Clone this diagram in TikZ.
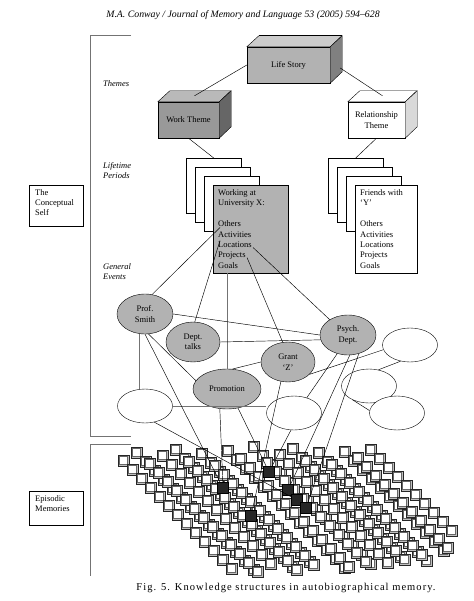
\documentclass[tikz,border=0pt]{standalone}
\usepackage{fontspec}
\setmainfont{Liberation Serif}
\usetikzlibrary{shapes.geometric}

\tikzset{
  lbl/.style={font=\fontsize{8.5}{10.4}\selectfont},
  level/.style={font=\itshape\fontsize{8.5}{10.4}\selectfont, anchor=north west, align=left, inner sep=0pt},
  face/.style={draw, inner sep=0pt, lbl, align=center},
  page/.style={draw, fill=white, anchor=north west, inner sep=0pt, minimum width=55pt, minimum height=55pt},
  event/.style={draw, ellipse, inner sep=0pt, lbl, align=center, fill=gray!60, minimum width=56pt, minimum height=40pt},
  blank/.style={event, fill=white, minimum width=55pt, minimum height=34pt},
  memo/.style={fill=gray!50, draw=black!85, line width=0.4pt},
  hole/.style={fill=white, draw=black!60, line width=0.3pt},
  dark/.style={draw, fill=black!85, minimum size=11pt, inner sep=0pt},
  frame/.style={draw=black!55, line width=0.8pt},
  link/.style={line width=0.45pt},
  glink/.style={draw=black!55, line width=0.8pt},
  sidebox/.style={draw, lbl, align=left, anchor=north west, inner sep=0pt, minimum width=54pt},
}

\begin{document}
\begin{tikzpicture}[x=1pt,y=-1pt]
  \useasboundingbox (0,0) rectangle (473,601);

  % header and caption
  \node[font=\itshape\fontsize{9.8}{11}\selectfont] (head) at (243,15) {M.A. Conway / Journal of Memory and Language 53 (2005) 594--628};
  \node[font=\fontsize{10.5}{12}\selectfont\addfontfeatures{LetterSpace=10}] (cap) at (286,588) {Fig. 5. Knowledge structures in autobiographical memory.};

  % brackets on the left
  \draw[frame] (131,35) -- (90,35) -- (90,436) -- (131,436);
  \draw[frame] (131,444) -- (90,444) -- (90,576);
  \node[sidebox, minimum height=41pt] (self) at (29,185) {};
  \node[lbl, anchor=north west, align=left, inner sep=0pt] at (35,189) {The\\Conceptual\\Self};
  \node[sidebox, minimum height=34pt] (episodic) at (29,491) {};
  \node[lbl, anchor=north west, align=left, inner sep=0pt] at (35,495) {Episodic\\Memories};

  % level names
  \node[level] (themes) at (103,80) {Themes};
  \node[level] (periods) at (103,162) {Lifetime\\Periods};
  \node[level] (general) at (103,263) {General\\Events};

  % themes
  \node[face, fill=gray!60, minimum width=83pt, minimum height=36pt] (story) at (288.5,65) {Life Story};
  \draw[fill=gray!40] (story.north west) -- ++(12,-11) -- ++(83,0) -- (story.north east) -- cycle;
  \draw[fill=gray] (story.north east) -- ++(12,-11) -- ++(0,36) -- (story.south east) -- cycle;
  \draw[line width=1.2pt] ([shift={(12,-11)}]story.north west) -- ++(83,0);

  \node[face, fill=gray!80, minimum width=61pt, minimum height=36pt] (work) at (188.5,120) {Work Theme};
  \draw[fill=gray!55] (work.north west) -- ++(12,-11) -- ++(61,0) -- (work.north east) -- cycle;
  \draw[fill=black!60] (work.north east) -- ++(12,-11) -- ++(0,36) -- (work.south east) -- cycle;

  \node[face, fill=white, minimum width=57pt, minimum height=36pt] (rel) at (376.5,120) {Relationship\\Theme};
  \draw[fill=white] (rel.north west) -- ++(12,-11) -- ++(57,0) -- (rel.north east) -- cycle;
  \draw[fill=gray!30] (rel.north east) -- ++(12,-11) -- ++(0,36) -- (rel.south east) -- cycle;

  \draw[link] (story.west) -- ([shift={(6,-6)}]work.north);
  \draw[link] ([shift={(10,3)}]story.east) -- ([shift={(6,-6)}]rel.north);

  % lifetime periods
  \foreach \i in {0,1,2} {
    \node[page] (wp\i) at (186+9*\i,158+9*\i) {};
    \node[page] (rp\i) at (328+9*\i,158+9*\i) {};
  }
  \node[page, fill=gray!60, minimum width=75pt, minimum height=88pt] (wpage) at (213,185) {};
  \node[lbl, anchor=north west, align=left, inner sep=0pt] (wtext) at (218,189.5)
    {Working at\\University X:\\[10.4pt]Others\\Activities\\Locations\\Projects\\Goals};
  \node[page, minimum width=62pt, minimum height=88pt] (rpage) at (355,185) {};
  \node[lbl, anchor=north west, align=left, inner sep=0pt] (rtext) at (360,189.5)
    {Friends with\\‘Y’\\[10.4pt]Others\\Activities\\Locations\\Projects\\Goals};

  \draw[link] (work.south) -- (wp0.north);
  \draw[link] (rel.south) -- (rp0.north);

  \coordinate (others) at ([shift={(2,38)}]wtext.north west);
  \coordinate (activities) at ([shift={(2,51)}]wtext.north west);
  \coordinate (locations) at ([shift={(35,58)}]wtext.north west);
  \coordinate (projects) at ([shift={(29,68)}]wtext.north west);

  % general events
  \node[event] (smith) at (145,314) {Prof.\\Smith};
  \node[event, minimum width=54pt] (talks) at (193,342) {Dept.\\talks};
  \node[event, minimum width=68pt] (prom) at (227,389) {Promotion};
  \node[event, minimum width=54pt] (grant) at (288,362) {Grant\\‘Z’};
  \node[event] (psych) at (348,335) {Psych.\\Dept.};
  \node[blank] (wleft) at (145,406) {};
  \node[blank] (wcen) at (294,413) {};
  \node[blank] (wtop) at (410,345) {};
  \node[blank] (wmid) at (369,386) {};
  \node[blank] (wbot) at (397,413) {};

  \draw[link] (others) -- (smith.70);
  \draw[link] (activities) -- (talks.85);
  \draw[link] (projects) -- (grant.105);
  \draw[link] (locations) -- (psych.140);
  \draw[glink] (prom.north) -- (prom.north |- wpage.south);
  \draw[link] (smith.east) -- (psych.west);
  \draw[link] (talks.east) -- (psych.190);
  \draw[link] (grant.west) -- (prom.75);
  \draw[link] (grant.-30) -- (wtop.190);
  \draw[link] (psych.-120) -- (wcen.50);
  \draw[glink] (smith.-105) -- (smith.-105 |- wleft.north);
  \draw[link] (smith.-80) -- (prom.165);
  \draw[glink] (wleft.east) -- (wleft.east -| wcen.west);
  \draw[link] (wmid.60) -- (wtop.-120);
  \draw[link] (wmid.-140) -- (wbot.175);

  % episodic memories
  \foreach \x/\y/\n in {118/455/12, 131/447/13, 144/458/12, 157/450/12, 170/444/13, 183/456/12,
                        196/448/12, 209/460/11, 222/445/13, 235/453/12, 248/441/13, 261/457/11,
                        274/449/12, 287/443/12, 300/455/11, 313/447/12, 326/459/10, 339/446/11,
                        352/452/10, 365/444/9} {
    \foreach \k in {0,...,\n} {
      \draw[memo] (\x+9*\k,\y+9*\k) rectangle ++(11,11);
      \draw[hole] (\x+9*\k+1.5,\y+9*\k+1.5) rectangle ++(7.5,7.5);
    }
  }
  \node[dark] (e1) at (223,488) {};
  \node[dark] (e2) at (269,472) {};
  \node[dark] (e3) at (288,490) {};
  \node[dark] (e4) at (297,500) {};
  \node[dark] (e5) at (306,508) {};
  \node[dark] (e6) at (251,516) {};

  \draw[link] (smith.-90) -- (e1);
  \draw[link] (wleft.-60) -- (e4);
  \draw[link] (prom.-110) -- (e1);
  \draw[link] (prom.-60) -- (e2);
  \draw[link] (grant.-110) -- (e6);
  \draw[link] (wcen.-100) -- (e2);
  \draw[link] (psych.-85) -- (e3);
  \draw[link] (psych.-60) -- (e5);
\end{tikzpicture}
\end{document}
